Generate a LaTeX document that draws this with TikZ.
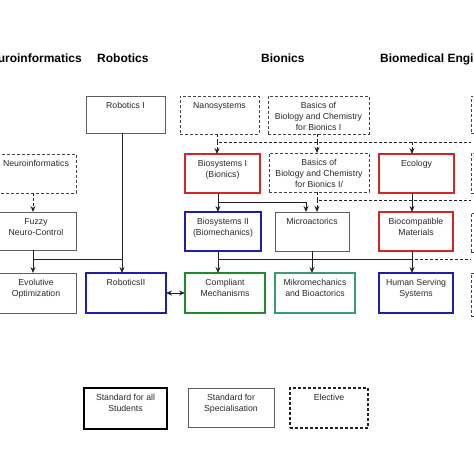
\documentclass[tikz,border=0pt]{standalone}
\usepackage{fontspec}
\setmainfont{Liberation Sans}
\usetikzlibrary{arrows.meta}
\definecolor{cred}{HTML}{D42626}
\definecolor{cblue}{HTML}{1E1EAA}
\definecolor{cgreen}{HTML}{1F8A2E}
\definecolor{cteal}{HTML}{3A9A72}
\definecolor{cgray}{HTML}{5E5E5E}
\definecolor{cline}{HTML}{222222}
\definecolor{ctext}{HTML}{2A2A2A}
\newcommand\mkbox[7]{%
  \node[#1, anchor=north west, inner sep=0pt, outer sep=0pt] (#2) at (#3,#4)
    {\parbox[c][#6pt][t]{#5pt}{\centering\rule{0pt}{12pt}#7}};}
\tikzset{
  boxfont/.style={font=\fontsize{8.7}{11}\selectfont, text=ctext},
  stdbox/.style={boxfont, draw=cgray, line width=0.9pt},
  redbox/.style={boxfont, draw=cred, line width=1.8pt},
  bluebox/.style={boxfont, draw=cblue, line width=1.8pt},
  greenbox/.style={boxfont, draw=cgreen, line width=1.8pt},
  tealbox/.style={boxfont, draw=cteal, line width=1.5pt},
  elecbox/.style={boxfont, draw=cline!85, line width=0.9pt, dash pattern=on 3pt off 2pt},
  allbox/.style={boxfont, draw=black, line width=2.2pt},
  legelec/.style={boxfont, draw=cline, line width=1.3pt, dash pattern=on 3pt off 2pt},
  conn/.style={draw=cline, line width=0.85pt},
  arr/.style={conn, -{Stealth[length=6pt,width=5pt]}},
  dconn/.style={conn, dash pattern=on 3pt off 2pt},
  darr/.style={dconn, -{Stealth[length=6pt,width=5pt]}},
  title/.style={font=\bfseries\fontsize{12}{14}\selectfont, text=black, inner sep=0pt}
}
\begin{document}
\begin{tikzpicture}[x=1pt,y=-1pt]
\useasboundingbox (0,0) rectangle (474,474);
\clip (0,0) rectangle (474,474);
\fill[white] (0,0) rectangle (474,474);

% titles (cut at the picture's edges as in the reference)
\node[title, anchor=base east] (t1) at (82,62) {Neuroinformatics};
\node[title, anchor=base west] (t2) at (97,62) {Robotics};
\node[title, anchor=base west] (t3) at (261,62) {Bionics};
\node[title, anchor=base west] (t4) at (380,62) {Biomedical Engineering};

% boxes
\mkbox{elecbox}{neuro}{-4}{154}{80}{39}{Neuroinformatics}
\mkbox{stdbox}{fuzzy}{-4}{212}{80}{38}{Fuzzy\\Neuro-Control}
\mkbox{stdbox}{evol}{-4}{273}{80}{40}{Evolutive\\Optimization}
\mkbox{stdbox}{rob1}{86}{96}{79}{37}{Robotics I}
\mkbox{bluebox}{rob2}{86}{273}{80}{40}{RoboticsII}
\mkbox{elecbox}{nano}{180}{96}{79}{38}{Nanosystems}
\mkbox{elecbox}{bas1}{268}{96}{101}{38}{Basics of\\Biology and Chemistry\\for Bionics I}
\mkbox{redbox}{bios1}{185}{154}{75}{39}{Biosystems I\\(Bionics)}
\mkbox{elecbox}{bas2}{269}{153}{100}{39}{Basics of\\Biology and Chemistry\\for Bionics I/}
\mkbox{redbox}{eco}{379}{154}{75}{39}{Ecology}
\mkbox{bluebox}{bios2}{185}{212}{76}{39}{Biosystems II\\(Biomechanics)}
\mkbox{stdbox}{micro}{275}{212}{74}{39}{Microactorics}
\mkbox{redbox}{biocomp}{379}{212}{74}{39}{Biocompatible\\Materials}
\mkbox{greenbox}{compl}{185}{273}{80}{40}{Compliant\\Mechanisms}
\mkbox{tealbox}{mikro}{275}{273}{80}{40}{Mikromechanics\\and Bioactorics}
\mkbox{bluebox}{human}{379}{273}{74}{40}{Human Serving\\Systems}
\mkbox{elecbox}{r1}{471}{96}{60}{37}{}
\mkbox{elecbox}{r2}{471}{153}{60}{40}{}
\mkbox{elecbox}{r3}{471}{213}{60}{39}{}
\mkbox{elecbox}{r4}{471}{273}{60}{43}{}

% legend
\mkbox{allbox}{leg1}{84}{388}{83}{41}{Standard for all\\Students}
\mkbox{stdbox}{leg2}{188}{388}{86}{39}{Standard for\\Specialisation}
\mkbox{legelec}{leg3}{290}{388}{78}{40}{Elective}

% junction coordinates
\coordinate (jf) at (33,259);
\coordinate (jr) at (122,259);
\coordinate (jn) at (217,142);
\coordinate (jn2) at (317,142);
\coordinate (jn3) at (412,142);
\coordinate (jb) at (218,202);
\coordinate (jm) at (306,202);
\coordinate (jd) at (317,200);
\coordinate (k1) at (218,259);
\coordinate (k2) at (312,259);
\coordinate (k3) at (412,259);
\coordinate (k4) at (415,259);

% neuroinformatics / robotics
\draw[darr] (neuro.south -| jf) -- (fuzzy.north -| jf);
\draw[arr] (fuzzy.south -| jf) -- (evol.north -| jf);
\draw[conn] (jf) -- (jr);
\draw[conn] (rob1.south -| jr) -- (jr);
\draw[arr] (jr) -- (rob2.north -| jr);
\draw[conn, {Stealth[length=6pt,width=5pt]}-{Stealth[length=6pt,width=5pt]}] (rob2.east) -- (compl.west);

% electives on top
\draw[dconn] (nano.south -| jn) -- (jn) -- (jn -| r2.west);
\draw[dconn] (bas1.south -| jn2) -- (jn2);
\draw[darr] (jn) -- (bios1.north -| jn);
\draw[darr] (jn2) -- (bas2.north -| jn2);
\draw[darr] (jn3) -- (eco.north -| jn3);

% biosystems
\draw[arr] (bios1.south -| jb) -- (bios2.north -| jb);
\draw[arr] (jb) -| (micro.north -| jm);
\draw[dconn] (bas2.south -| jd) -- (jd) -- (jd -| r3.west);
\draw[darr] (jd) -- (micro.north -| jd);
\draw[arr] (eco.south -| jn3) -- (biocomp.north -| jn3);

% lower row
\draw[conn] (bios2.south -| k1) -- (k1) -- (k3);
\draw[conn] (micro.south -| k2) -- (k2);
\draw[conn] (biocomp.south -| k3) -- (k3);
\draw[dconn] (k4) -- (k4 -| r4.west);
\draw[arr] (k1) -- (compl.north -| k1);
\draw[arr] (k2) -- (mikro.north -| k2);
\draw[arr] (k3) -- (human.north -| k3);
\end{tikzpicture}
\end{document}
